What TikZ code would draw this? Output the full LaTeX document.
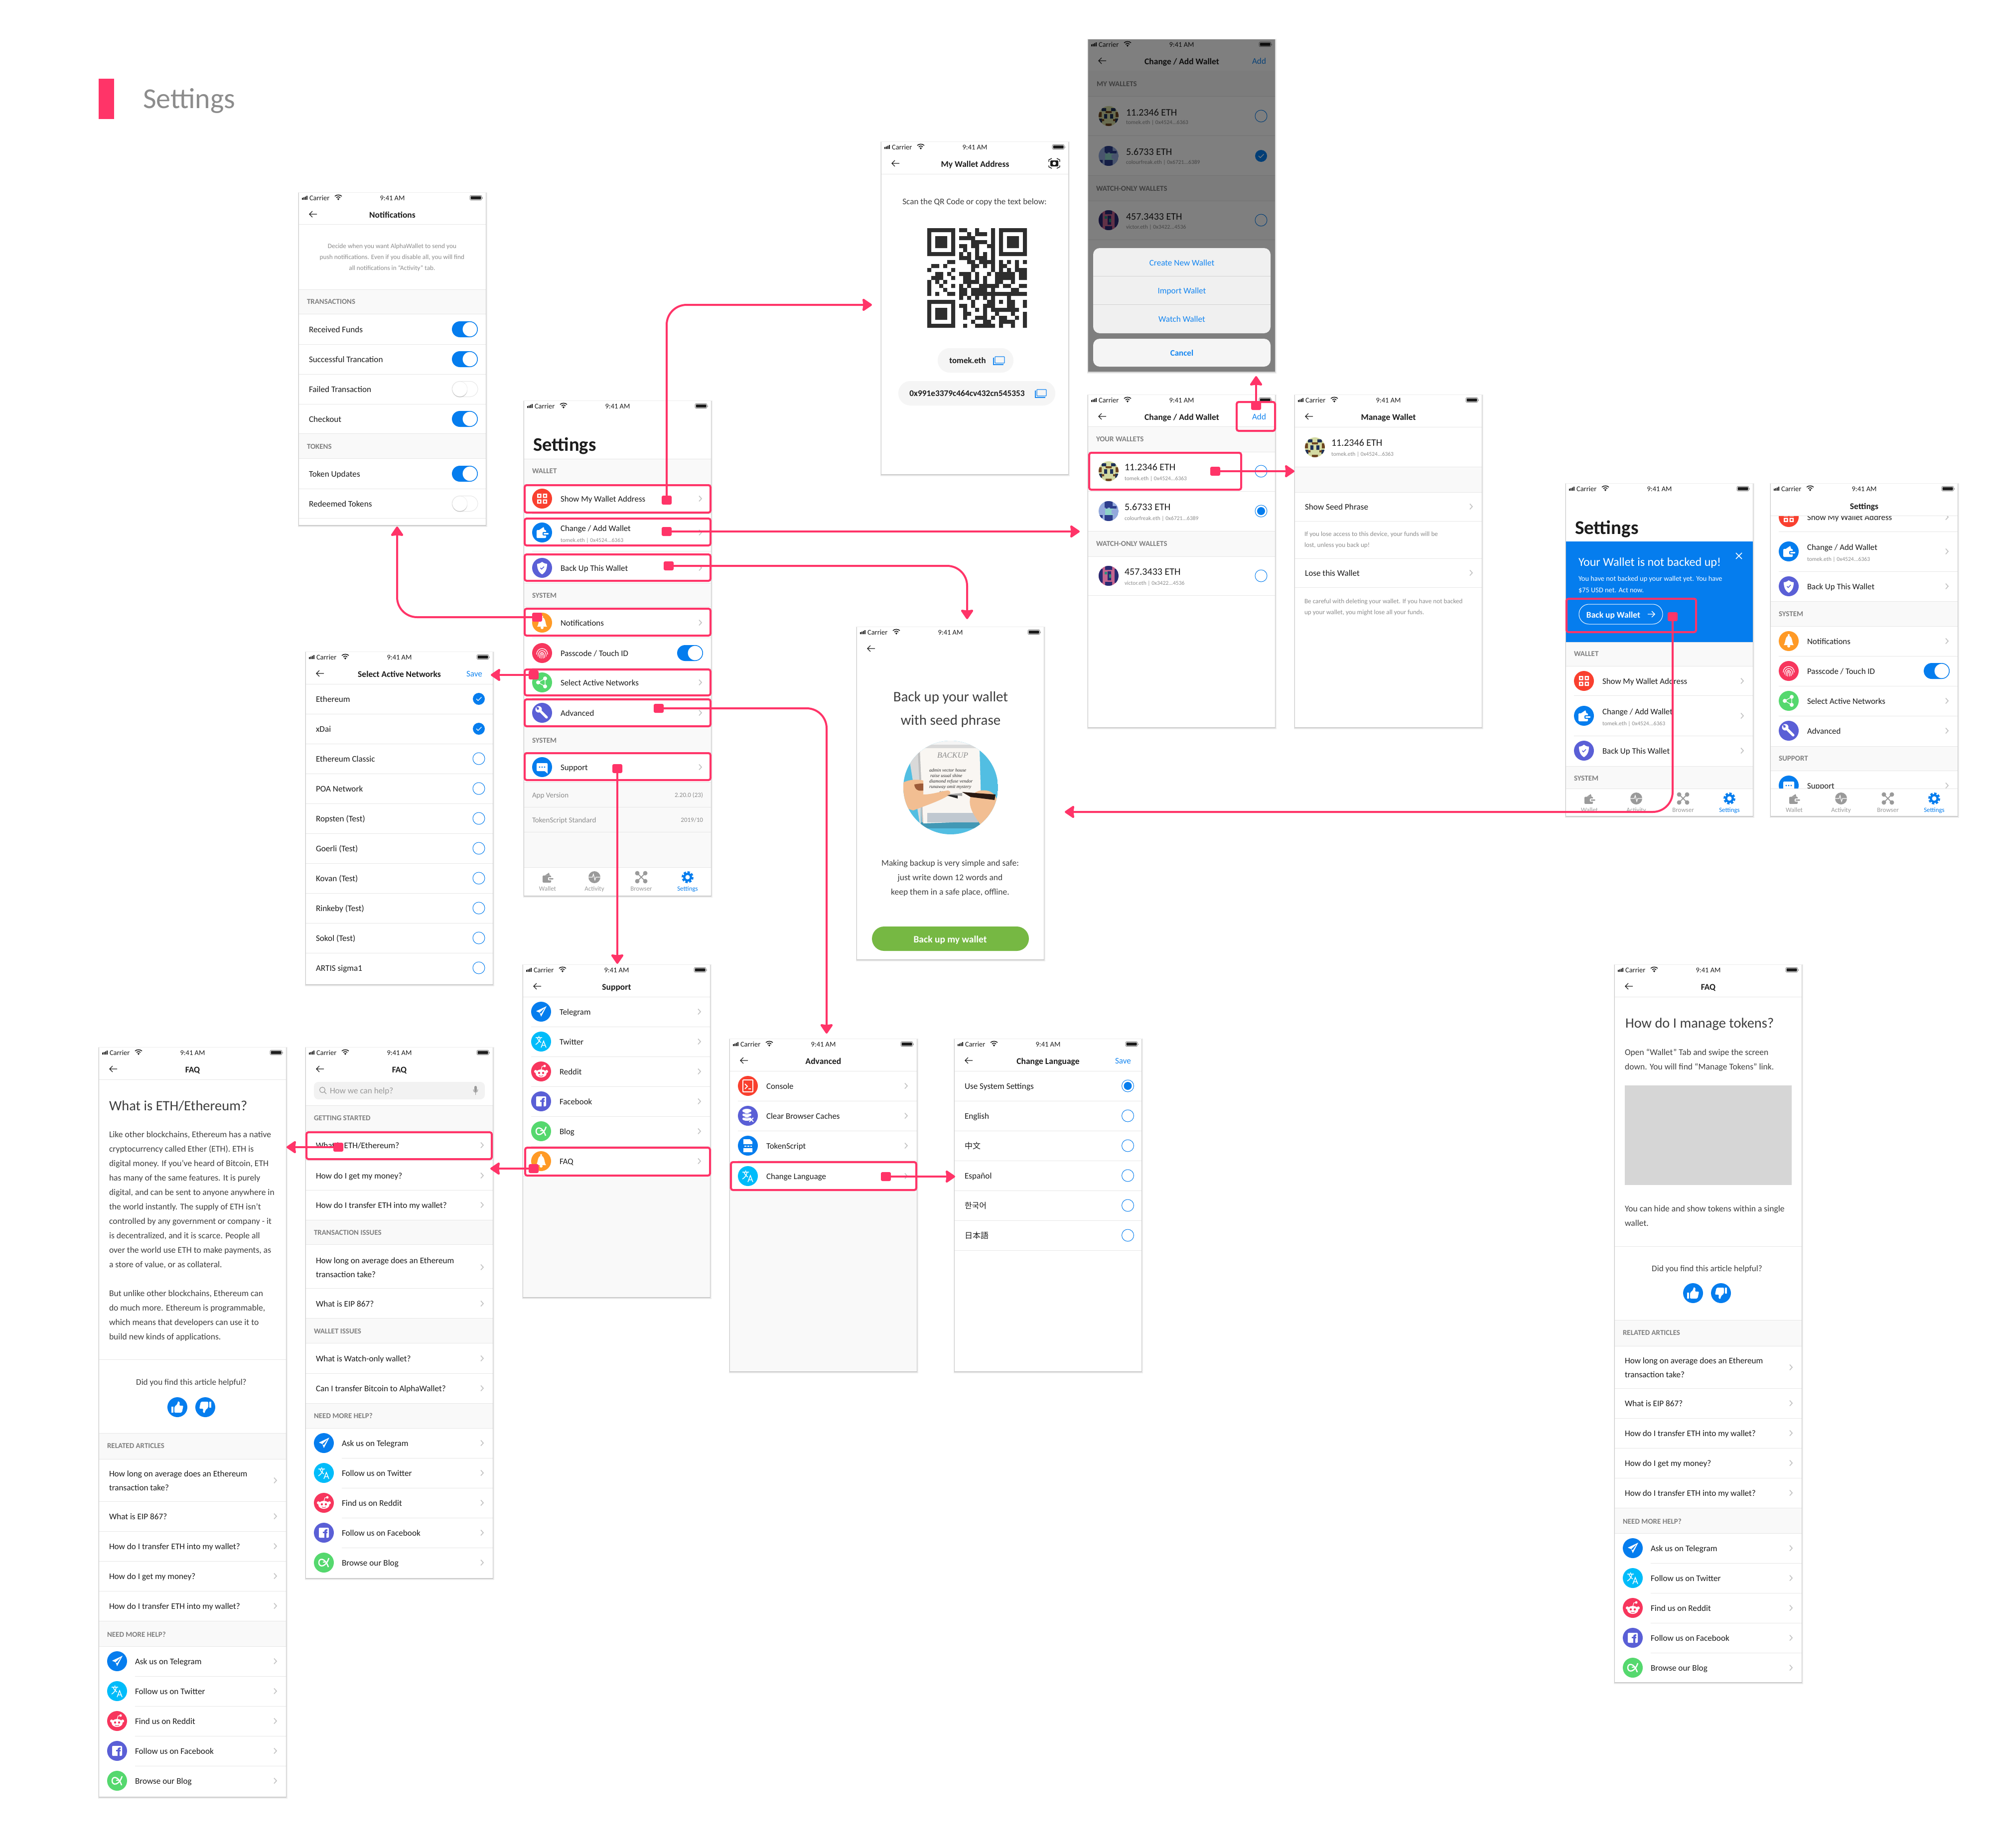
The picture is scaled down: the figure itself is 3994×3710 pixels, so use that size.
\documentclass[tikz,border=0pt]{standalone}
\usepackage{fontspec}
\usetikzlibrary{arrows.meta}
\setmainfont{Carlito}
\newfontfamily\cjksc{Noto Sans CJK SC}
\newfontfamily\cjkkr{Noto Sans CJK KR}
\newfontfamily\cjkjp{Noto Sans CJK JP}
\newfontfamily\handfont{Liberation Serif}[ItalicFont=* Italic]
\definecolor{ink}{HTML}{1C1C1C}
\definecolor{body}{HTML}{3E3E3E}
\definecolor{mute}{HTML}{8C8C8C}
\definecolor{secg}{HTML}{7F7F7F}
\definecolor{secbg}{HTML}{F9F9F9}
\definecolor{sepc}{HTML}{E6E6E6}
\definecolor{pinkc}{HTML}{FF3468}
\definecolor{blu}{HTML}{057DEE}
\definecolor{linkb}{HTML}{1586F0}
\definecolor{chev}{HTML}{C4C4C4}
\definecolor{tabg}{HTML}{9A9A9A}
\definecolor{icred}{HTML}{F9402F}
\definecolor{icindigo}{HTML}{5A5FD6}
\definecolor{icorange}{HTML}{FF9A26}
\definecolor{icpink}{HTML}{F7365D}
\definecolor{icgreen}{HTML}{55D86E}
\definecolor{iccyan}{HTML}{00BCFA}
\definecolor{greenb}{HTML}{76B843}
\definecolor{HTMLill}{HTML}{52BEE2}
\definecolor{HTMLpap}{HTML}{F9F6F2}
\definecolor{HTMLstr}{HTML}{C0C8D0}
\definecolor{HTMLskin}{HTML}{F2BE92}
\definecolor{HTMLbrn}{HTML}{9C5A38}
\definecolor{HTMLdk}{HTML}{2A1A12}
\newcommand\fz[1]{\fontsize{#1}{#1}\selectfont}
\newcounter{tn}
\tikzset{
  every node/.style={inner sep=0pt,outer sep=0pt},
  lbl/.style={anchor=west,text=ink,font=\fz{17.2}},
  ctr/.style={anchor=center,text=ink,font=\fz{17.2}},
  rgt/.style={anchor=east,text=mute,font=\fz{13}},
  ttl/.style={anchor=center,text=ink,font=\bfseries\fz{17.5}},
  secl/.style={anchor=west,text=secg,font=\bfseries\fz{15}},
  subl/.style={anchor=west,text=mute,font=\fz{11.6}},
  smallg/.style={anchor=west,text=mute,font=\fz{13.2}},
  stat/.style={anchor=center,text=ink,font=\fz{14.5}},
  statl/.style={anchor=west,text=ink,font=\fz{14.5}},
  bodyt/.style={anchor=west,text=body,font=\fz{17.6}},
  headt/.style={anchor=west,text=body,font=\fz{28.5}},
  tabl/.style={anchor=center,text=tabg,font=\fz{13}},
  sepl/.style={draw=sepc,line width=1pt},
  scr/.style={fill=white,minimum width=375pt},
  hlbox/.style={draw=pinkc,line width=4pt,rounded corners=4pt},
  sq/.style={fill=pinkc,minimum width=20pt,minimum height=18pt,rounded corners=3pt},
  conn/.style={draw=pinkc,line width=4pt,rounded corners=40pt,-{Stealth[length=21pt,width=28pt,inset=2pt,round]}},
}
\newcommand\T[4][lbl]{\stepcounter{tn}\edef\tname{t\arabic{tn}}\node[#1] (\tname) at (#2,#3) {\rule[-.2em]{0pt}{1.2em}#4};}
\newcommand\Screen[2]{%
  \fill[black,opacity=.07] (-2.5,-1) rectangle (377.5,#2+4);
  \fill[black,opacity=.14] (-1,0) rectangle (376,#2+2);
  \node[scr,minimum height=#2pt] (#1) at (187.5,#2/2) {};}
\newcommand\Status{%
  \fill[ink] (6,10) rectangle (8,14) (9,9) rectangle (11,14) (12,7.5) rectangle (14,14) (15,6) rectangle (17,14);
  \T[statl]{21}{10}{Carrier}
  \draw[ink,line width=1.6pt] (72,7) .. controls (76,3.5) and (82,3.5) .. (86,7) (75,10) .. controls (78,7.5) and (80,7.5) .. (83,10);
  \fill[ink] (79,15) -- (76.8,12) .. controls (78.5,10.7) and (79.5,10.7) .. (81.2,12) -- cycle;
  \T[stat]{187.5}{10}{9:41 AM}
  \draw[ink!70,line width=.6pt,rounded corners=2pt] (343,5.5) rectangle (367,14.5);
  \fill[ink,rounded corners=1pt] (344.5,7) rectangle (365.5,13);
  \fill[ink!50] (368,8.5) rectangle (369,11.5);}
\newcommand\Back{\draw[ink,line width=1.3pt] (36,43) -- (21,43) (27,37) -- (21,43) -- (27,49);}
\newcommand\Rule[2][0]{\draw[sepl] (#1,#2) -- (375,#2);}
\newcommand\Sec[4]{\fill[secbg] (0,#1) rectangle (375,#2); \Rule{#1}\Rule{#2}\T[secl]{16}{#3}{#4}}
\newcommand\Chev[1]{\draw[chev,line width=1.7pt] (351,#1-5.5) -- (356,#1) -- (351,#1+5.5);}
\newcommand\Toggle[2]{%
  \ifnum#2=1
    \fill[blu,rounded corners=16pt] (307,#1-16) rectangle (359,#1+16);
    \fill[white,draw=blu,line width=1pt] (343,#1) circle (15);
  \else
    \draw[sepc,fill=white,line width=1pt,rounded corners=16pt] (307,#1-15.5) rectangle (359,#1+15.5);
    \fill[black!25] (323,#1+1.5) circle (15);
    \fill[white,draw=black!10,line width=.5pt] (323,#1) circle (15);
  \fi}
\newcommand\Radio[2]{\draw[blu,line width=1pt] (#1,#2) circle (12);}
\newcommand\RadioDot[2]{\Radio{#1}{#2}\fill[blu] (#1,#2) circle (8);}
\newcommand\CheckO[2]{\fill[blu] (#1,#2) circle (12);\draw[white,line width=1.3pt] (#1-5,#2) -- (#1-1.5,#2+3.5) -- (#1+5.5,#2-3.5);}
\newcommand\Icon[4]{\begin{scope}[shift={(#1,#2)}]\def\ic{#3}\fill[#3] (0,0) circle (20);#4\end{scope}}
\newcommand\GQr{\fill[white] (-10,-10) rectangle (-1.5,-1.5) (1.5,-10) rectangle (10,-1.5) (-10,1.5) rectangle (-1.5,10) (1.5,1.5) rectangle (10,10);\fill[\ic] (-7.5,-7.5) rectangle (-4,-4) (4,-7.5) rectangle (7.5,-4) (-7.5,4) rectangle (-4,7.5) (4,4) rectangle (7.5,7.5);}
\newcommand\GWal[2]{\fill[#1] (-6,-5) -- (3,-11) -- (5,-5) -- cycle;\fill[#1,rounded corners=1.5pt] (-11,-5) rectangle (8,11);\fill[#2,rounded corners=2pt] (1,-1) rectangle (13,6);\fill[#1,rounded corners=1pt] (3,1) rectangle (13,4);}
\newcommand\GWallet{\GWal{white}{\ic}}
\newcommand\GShield{\fill[white] (0,-12) .. controls (4,-9) and (7,-8) .. (10,-8) .. controls (10,2) and (7,9) .. (0,13) .. controls (-7,9) and (-10,2) .. (-10,-8) .. controls (-7,-8) and (-4,-9) .. (0,-12) -- cycle;\draw[\ic,line width=1.5pt] (-3.5,0) -- (-1,2.5) -- (4,-2.5);}
\newcommand\GBell{\fill[white] (0,-12) circle (2);\fill[white] (-10,8) .. controls (-6,4) and (-8,-10) .. (0,-10.5) .. controls (8,-10) and (6,4) .. (10,8) -- cycle;\fill[white] (0,10) circle (3);}
\newcommand\GFinger{\draw[white,line width=1.3pt] (-11,3) .. controls (-11,-13) and (11,-13) .. (11,3) (-8,7) .. controls (-9,-9) and (9,-9) .. (8,7) (-5,10) .. controls (-6,-5) and (5,-5) .. (5,10) (-2,11) .. controls (-3,-2) and (2,-2) .. (2,11);}
\newcommand\GShare{\draw[white,line width=1.2pt] (-8,0) -- (6,-8) -- (6,8) -- cycle;\fill[white] (-8,0) circle (4) (6,-8) circle (4) (6,8) circle (4);}
\newcommand\GWrench{\draw[white,line width=5pt,line cap=round] (-5,-5) -- (9,9);\fill[white] (-7,-7) circle (6.5);\fill[\ic] (-12,-12) -- (-7,-11) -- (-6,-7) -- (-10,-6) -- cycle;}
\newcommand\GChat{\fill[white,rounded corners=2pt] (-11,-8) rectangle (11,8);\fill[white] (4,7) -- (11,13) -- (11,7) -- cycle;\fill[\ic] (-5,0) circle (1.6) (0,0) circle (1.6) (5,0) circle (1.6);}
\newcommand\GPlane{\fill[white] (11,-11) -- (-10,-1) -- (-3,2) -- (0,10) -- cycle;\fill[\ic] (-3,2) -- (7,-7) -- (0,4) -- cycle;}
\newcommand\GTrans{\draw[white,line width=1.5pt] (-11,-8) -- (2,-8) (-4.5,-11.5) -- (-4.5,-8) (-1.5,-8) .. controls (-3,-1) and (-6,3) .. (-11,6) (-8,-8) .. controls (-6,-3) and (-3,0) .. (0,2) (0,12) -- (5,-1) -- (10,12) (2,7.5) -- (8,7.5);}
\newcommand\GReddit{\fill[white] (0,4) ellipse (11 and 8);\fill[white] (-11,0) circle (3) (11,0) circle (3) (7,-11) circle (2.5);\draw[white,line width=1.2pt] (0,-3) -- (2,-10) -- (7,-11);\fill[\ic] (-4,3) circle (2.2) (4,3) circle (2.2);\draw[\ic,line width=1pt] (-4,8) .. controls (-2,10) and (2,10) .. (4,8);}
\newcommand\GFace{\fill[white,rounded corners=2pt] (-10,-10) rectangle (10,10);\fill[\ic] (1,12) -- (1,-2) .. controls (1,-6) and (3,-7) .. (7,-7) -- (7,-4) .. controls (5,-4) and (5,-3) .. (5,-2) -- (7,-2) -- (7,1) -- (5,1) -- (5,12) -- cycle;\fill[\ic] (-2,-2) rectangle (2,1);}
\newcommand\GBlog{\draw[white,line width=2.4pt] (10,-9) .. controls (4,10) and (-10,10) .. (-10,0) .. controls (-10,-10) and (3,-10) .. (9,9);\draw[white,line width=1.4pt] (-2,-1) -- (6,-1);}
\newcommand\GCons{\draw[white,line width=1.8pt,rounded corners=1pt] (-10,-12) rectangle (10,12);\draw[white,line width=1.8pt] (-6,-4) -- (-1,1) -- (-6,6) (1,6) -- (6,6);}
\newcommand\GDb{\fill[white] (-2,-10) ellipse (9 and 4) (-2,-2) ellipse (9 and 4) (-2,6) ellipse (9 and 4);\draw[\ic,line width=1pt] (-11,-6) .. controls (-6,-3) and (2,-3) .. (7,-6) (-11,2) .. controls (-6,5) and (2,5) .. (7,2);\draw[white,line width=2pt] (3,4) -- (11,12) (11,4) -- (3,12);}
\newcommand\GXml{\fill[white] (-9,-13) -- (4,-13) -- (9,-8) -- (9,13) -- (-9,13) -- cycle;\fill[\ic] (-11,-3) rectangle (11,5);\fill[white] (-7,0) rectangle (-3,2) (-1,0) rectangle (3,2) (5,0) rectangle (8,2);}
\newcommand\Item[4]{\Icon{36}{#1}{#2}{#3}\T[lbl,font=\fz{16.9}]{73}{#1}{#4}\Chev{#1}}
\newcommand\ItemTwo[5]{\Icon{36}{#1}{#2}{#3}\T[lbl,font=\fz{16.9}]{73}{#1-9}{#4}\T[subl]{73}{#1+14.5}{#5}\Chev{#1}}
\newcommand\TabBar[2]{%
  \fill[white] (0,#1) rectangle (375,#2);\Rule{#1}
  \begin{scope}[shift={(47,#1+21)},scale=.9]\GWal{tabg}{white}\end{scope}
  \T[tabl]{47}{#1+42}{Wallet}
  \begin{scope}[shift={(141,#1+20)}]\fill[tabg] (0,0) circle (12);\draw[white,line width=1.2pt] (-12,0) -- (-4,0) -- (-2,-6) -- (1,6) -- (3,0) -- (12,0);\end{scope}
  \T[tabl]{141}{#1+42}{Activity}
  \begin{scope}[shift={(235,#1+20)}]\draw[tabg,line width=2pt] (-7,-7) -- (7,7) (7,-7) -- (-7,7);\fill[tabg] (-8,-8) circle (4.5) (8,-8) circle (4.5) (-8,8) circle (4.5) (8,8) circle (4.5);\end{scope}
  \T[tabl]{235}{#1+42}{Browser}
  \begin{scope}[shift={(328,#1+20)}]\draw[blu,line width=4pt,dash pattern=on 4.4pt off 3.4pt] (0,0) circle (10);\fill[blu] (0,0) circle (9);\fill[white] (0,0) circle (4.5);\end{scope}
  \T[tabl,text=blu]{328}{#1+42}{Settings}}
\newcommand\Avatar[3]{\begin{scope}[shift={(#1,#2)}]\begin{scope}
  \clip (0,0) circle (20);
  \ifnum#3=1
    \fill[HTMLaa] (-20,-20) rectangle (20,20);
    \fill[HTMLab] (-14,-16) rectangle (-5,-10) (5,-16) rectangle (14,-10) (-9,-4) rectangle (-3,5) (3,-4) rectangle (9,5) (-20,5) rectangle (-13,13) (13,5) rectangle (20,13);
    \fill[HTMLac] (-6,-10) rectangle (6,-6) (-20,-8) rectangle (-14,2) (14,-8) rectangle (20,2) (-6,15) rectangle (6,20) (-14,6) rectangle (-9,10) (9,6) rectangle (14,10);
  \else\ifnum#3=2
    \fill[HTMLba] (-20,-20) rectangle (20,20);
    \fill[HTMLbb] (-8,-20) rectangle (8,-7) (-20,8) rectangle (-12,14) (-8,8) rectangle (8,20) (-6,-7) rectangle (-2,8);
    \fill[HTMLbc] (-7,-5) rectangle (10,8);\fill[HTMLbb] (3,-10) rectangle (16,-5);\fill[HTMLba] (6,-3) rectangle (12,6);
  \else
    \fill[HTMLca] (-20,-20) rectangle (20,20);
    \fill[HTMLcb] (-20,-14) rectangle (-12,14) (12,-14) rectangle (20,14) (-7,-20) rectangle (7,-12) (-7,12) rectangle (7,20) (-2,-9) rectangle (5,9);
    \fill[HTMLcc] (1,-3) rectangle (5,4) (-8,-8) rectangle (-3,-3);
  \fi\fi\end{scope}\end{scope}}
\definecolor{HTMLaa}{HTML}{D3DAA2}\definecolor{HTMLab}{HTML}{1F3157}\definecolor{HTMLac}{HTML}{6E4622}
\definecolor{HTMLba}{HTML}{93A9DC}\definecolor{HTMLbb}{HTML}{2C3D8C}\definecolor{HTMLbc}{HTML}{8ED3C8}
\definecolor{HTMLca}{HTML}{C4648F}\definecolor{HTMLcb}{HTML}{2A2A72}\definecolor{HTMLcc}{HTML}{2E8E7E}
\newcommand\Wrow[4]{\Avatar{41}{#1}{#2}\T[lbl,font=\fz{20}]{73}{#1-10}{#3}\T[subl,font=\fz{11.5}]{73}{#1+14}{#4}}
\newcommand\HelpRows[1]{%
  \Icon{36}{#1}{blu}{\GPlane}\T{72}{#1}{Ask us on Telegram}\Chev{#1}\Rule[72]{#1+30}
  \Icon{36}{#1+60}{iccyan}{\GTrans}\T{72}{#1+60}{Follow us on Twitter}\Chev{#1+60}\Rule[72]{#1+90}
  \Icon{36}{#1+120}{icpink}{\GReddit}\T{72}{#1+120}{Find us on Reddit}\Chev{#1+120}\Rule[72]{#1+150}
  \Icon{36}{#1+180}{icindigo}{\GFace}\T{72}{#1+180}{Follow us on Facebook}\Chev{#1+180}\Rule[72]{#1+210}
  \Icon{36}{#1+240}{icgreen}{\GBlog}\T{72}{#1+240}{Browse our Blog}\Chev{#1+240}}
\newcommand\GThumb{\fill[white] (-12,-1) rectangle (-8,11);\fill[white,rounded corners=2pt] (-6,-1) -- (0,-6) -- (1,-12) -- (5,-11) -- (4,-3) -- (12,-3) -- (9,11) -- (-6,11) -- cycle;}
\newcommand\Thumbs[1]{%
  \Icon{157}{#1}{blu}{\GThumb}
  \begin{scope}[shift={(213,#1)},xscale=-1,yscale=-1]\def\ic{blu}\fill[blu] (0,0) circle (20);\GThumb\end{scope}}
\newcommand\Related[1]{%
  \Sec{#1}{#1+52}{#1+24}{RELATED ARTICLES}
  \T{20}{#1+81}{How long on average does an Ethereum}\T{20}{#1+109}{transaction take?}\Chev{#1+95}\Rule{#1+137}
  \T{20}{#1+167}{What is EIP 867?}\Chev{#1+167}\Rule{#1+197}
  \T{20}{#1+227}{How do I transfer ETH into my wallet?}\Chev{#1+227}\Rule{#1+257}
  \T{20}{#1+287}{How do I get my money?}\Chev{#1+287}\Rule{#1+317}
  \T{20}{#1+347}{How do I transfer ETH into my wallet?}\Chev{#1+347}
  \Sec{#1+377}{#1+428}{#1+403}{NEED MORE HELP?}
  \HelpRows{#1+458}}
\newcommand\HL[5]{\node[hlbox,minimum width={(#4-#2)*1pt},minimum height={(#5-#3)*1pt}] (#1) at ({(#2+#4)/2},{(#3+#5)/2}) {};}
\newcommand\SQ[3]{\node[sq] (#1) at (#2,#3) {};}
\newcommand\Copy[2]{\draw[linkb,line width=1.2pt,rounded corners=1pt] (#1-8,#2-7) rectangle (#1+11,#2+6);\draw[linkb,line width=1.2pt] (#1-11,#2-5) -- (#1-11,#2+9) -- (#1+9,#2+9);}
\begin{document}
\begin{tikzpicture}[x=1pt,y=-1pt]
\useasboundingbox (0,0) rectangle (3994,3710);
\fill[white] (0,0) rectangle (3994,3710);
% page heading
\node[fill=pinkc,minimum width=31pt,minimum height=81pt] (headbar) at (213.5,198.5) {};
\node[anchor=west,text=black!45,font=\fz{58}] (headtxt) at (287,199) {\rule[-.2em]{0pt}{1.05em}Settings};

% ---------- Notifications
\begin{scope}[shift={(600,387)}]
\Screen{sNotif}{667}\Status\Back\T[ttl]{187.5}{43}{Notifications}\Rule{63}
\T[ctr,text=mute,font=\fz{13.3}]{187}{106}{Decide when you want AlphaWallet to send you}
\T[ctr,text=mute,font=\fz{13.3}]{187}{128}{push notifications. Even if you disable all, you will find}
\T[ctr,text=mute,font=\fz{13.3}]{187}{150}{all notifications in “Activity” tab.}
\Sec{194}{243}{217}{TRANSACTIONS}
\T{20}{274}{Received Funds}\Toggle{274}{1}\Rule{304}
\T{20}{334}{Successful Trancation}\Toggle{334}{1}\Rule{364}
\T{20}{394}{Failed Transaction}\Toggle{394}{0}\Rule{424}
\T{20}{454}{Checkout}\Toggle{454}{1}
\Sec{483}{533}{508}{TOKENS}
\T{20}{564}{Token Updates}\Toggle{564}{1}\Rule{594}
\T{20}{624}{Redeemed Tokens}\Toggle{624}{0}\Rule{653}
\end{scope}

% ---------- Settings main
\begin{scope}[shift={(1052,805)}]
\Screen{sMain}{993}\Status
\T[lbl,font=\bfseries\fz{38.6}]{18}{85}{Settings}
\Sec{116}{167}{139}{WALLET}
\Item{196}{icred}{\GQr}{Show My Wallet Address}\Rule[16]{226}
\ItemTwo{264}{blu}{\GWallet}{Change / Add Wallet}{tomek.eth | 0x4524...6363}\Rule[16]{301}
\Item{335}{icindigo}{\GShield}{Back Up This Wallet}
\Sec{365}{413}{389}{SYSTEM}
\Item{445}{icorange}{\GBell}{Notifications}\Rule[16]{475}
\Icon{36}{506}{icpink}{\GFinger}\T[lbl,font=\fz{16.9}]{73}{506}{Passcode / Touch ID}\Toggle{506}{1}\Rule[16]{536}
\Item{565}{icgreen}{\GShare}{Select Active Networks}\Rule[16]{596}
\Item{626}{icindigo}{\GWrench}{Advanced}
\Sec{654}{705}{680}{SYSTEM}
\Item{735}{blu}{\GChat}{Support}
\fill[secbg] (0,765) rectangle (375,936);\Rule{765}\Rule{815}\Rule{865}
\T[lbl,text=mute,font=\fz{15}]{16}{790}{App Version}\T[rgt]{359}{790}{2.20.0 (23)}
\T[lbl,text=mute,font=\fz{15}]{16}{840}{TokenScript Standard}\T[rgt]{359}{840}{2019/10}
\TabBar{936}{993}
\end{scope}

% ---------- My Wallet Address
\begin{scope}[shift={(1769,285)}]
\Screen{sAddr}{667}\Status\Back\T[ttl]{188}{43}{My Wallet Address}\Rule{64}
\draw[ink,line width=1.4pt] (336,40) -- (336,36) -- (342,33) (352,33) -- (358,36) -- (358,40) (336,47) -- (336,50) -- (342,53) (352,53) -- (358,50) -- (358,47);
\fill[ink,rounded corners=1.5pt] (339,37) rectangle (355,49);\fill[white] (347,43) circle (3.5);
\T[ctr,text=body,font=\fz{17.2}]{187}{119}{Scan the QR Code or copy the text below:}
\begin{scope}[shift={(92,173)}]
\fill[black!82] foreach \r/\a/\b in {
0/0/7,0/8/10,0/12/13,0/16/17,0/18/25,
1/0/1,1/6/7,1/10/11,1/12/15,1/16/17,1/18/19,1/24/25,
2/0/1,2/2/5,2/6/7,2/8/12,2/16/17,2/18/19,2/20/23,2/24/25,
3/0/1,3/2/5,3/6/7,3/11/15,3/16/17,3/18/19,3/20/23,3/24/25,
4/0/1,4/2/5,4/6/7,4/8/10,4/11/13,4/15/17,4/18/19,4/20/23,4/24/25,
5/0/1,5/6/7,5/9/10,5/12/13,5/16/17,5/18/19,5/24/25,
6/0/7,6/8/9,6/10/11,6/12/13,6/14/15,6/16/17,6/18/25,
7/8/11,7/12/15,7/16/17,
8/5/7,8/10/12,8/13/17,8/18/19,8/20/21,8/22/23,8/24/25,
9/1/3,9/4/5,9/11/13,9/14/15,9/16/17,9/18/20,9/22/23,
10/0/1,10/6/7,10/11/12,10/16/17,10/18/19,10/20/21,10/22/25,
11/2/4,11/5/6,11/8/11,11/12/13,11/15/16,11/17/22,11/23/25,
12/1/4,12/6/7,12/9/11,12/12/13,12/14/15,12/17/22,12/23/25,
13/0/1,13/2/3,13/4/5,13/9/13,13/14/15,13/17/19,13/21/22,
14/0/1,14/3/4,14/6/7,14/8/9,14/10/11,14/13/18,14/19/21,14/23/25,
15/0/1,15/4/5,15/8/10,15/11/15,15/16/17,15/21/23,
16/0/1,16/2/3,16/5/7,16/8/10,16/11/25,
17/8/9,17/10/11,17/12/13,17/14/15,17/16/17,17/20/21,
18/0/7,18/11/12,18/15/17,18/18/19,18/20/22,18/24/25,
19/0/1,19/6/7,19/8/10,19/11/12,19/14/17,19/20/22,19/24/25,
20/0/1,20/2/5,20/6/7,20/9/10,20/12/13,20/14/15,20/16/23,
21/0/1,21/2/5,21/6/7,21/9/11,21/14/15,21/17/18,21/21/22,21/24/25,
22/0/1,22/2/5,22/6/7,22/9/10,22/12/15,22/16/17,22/18/20,22/22/23,22/24/25,
23/0/1,23/6/7,23/11/12,23/14/16,23/18/22,23/24/25,
24/0/7,24/9/10,24/12/17,24/18/19,24/21/22,24/24/25}
{ (\a*8,\r*8) rectangle (\b*8,\r*8+8) };
\end{scope}
\fill[black!4,rounded corners=24pt] (113,414) rectangle (265,463);
\T[ctr,font=\bfseries\fz{17}]{173}{438}{tomek.eth}\Copy{236}{438}
\fill[black!4,rounded corners=24pt] (34,480) rectangle (349,529);
\T[ctr,font=\bfseries\fz{17.3}]{172}{504}{0x991e3379c464cv432cn545353}\Copy{320}{504}
\end{scope}

% ---------- Change / Add Wallet with action sheet
\begin{scope}[shift={(2184,79)}]
\Screen{sSheet}{667}\Status\Back\T[ttl]{188}{43}{Change / Add Wallet}\T[ctr,text=linkb]{343}{43}{Add}\Rule{63}
\fill[secbg] (0,63) rectangle (375,114);\Rule{114}
\T[secl]{17}{88}{MY WALLETS}
\Avatar{41}{154}{1}\T[lbl,font=\fz{20}]{76}{145}{11.2346 ETH}\T[subl,font=\fz{11.5}]{76}{166}{tomek.eth | 0x4524...6363}\Radio{347}{154}\Rule{193}
\Avatar{41}{234}{2}\T[lbl,font=\fz{20}]{76}{224}{5.6733 ETH}\T[subl,font=\fz{11.5}]{76}{246}{colourfreak.eth | 0x6721...6389}\CheckO{347}{234}
\Sec{273}{324}{298}{WATCH-ONLY WALLETS}
\Avatar{41}{363}{3}\T[lbl,font=\fz{20}]{76}{354}{457.3433 ETH}\T[subl,font=\fz{11.5}]{76}{376}{victor.eth | 0x3422...4536}\Radio{347}{363}\Rule{402}
\fill[black,opacity=.5] (0,0) rectangle (375,667);
\fill[black!6,rounded corners=13pt] (10,419) rectangle (366,590);
\draw[black!18,line width=.8pt] (10,475) -- (366,475) (10,532) -- (366,532);
\T[ctr,text=linkb]{188}{448}{Create New Wallet}
\T[ctr,text=linkb]{188}{504}{Import Wallet}
\T[ctr,text=linkb]{188}{561}{Watch Wallet}
\fill[black!4,rounded corners=13pt] (10,601) rectangle (366,657);
\T[ctr,text=linkb,font=\bfseries\fz{17}]{188}{629}{Cancel}
\end{scope}

% ---------- Change / Add Wallet
\begin{scope}[shift={(2184,793)}]
\Screen{sChange}{667}\Status\Back\T[ttl]{188}{43}{Change / Add Wallet}\T[ctr,text=linkb]{343}{43}{Add}\Rule{63}
\Sec{63}{114}{87}{YOUR WALLETS}
\Wrow{153}{1}{11.2346 ETH}{tomek.eth | 0x4524...6363}\Radio{347}{153}\Rule{193}
\Wrow{233}{2}{5.6733 ETH}{colourfreak.eth | 0x6721...6389}\RadioDot{347}{233}
\Sec{273}{324}{297}{WATCH-ONLY WALLETS}
\Wrow{363}{3}{457.3433 ETH}{victor.eth | 0x3422...4536}\Radio{347}{363}\Rule{402}
\end{scope}

% ---------- Manage Wallet
\begin{scope}[shift={(2599,793)}]
\Screen{sManage}{667}\Status\Back\T[ttl]{187.5}{43}{Manage Wallet}\Rule{64}
\Avatar{40}{105}{1}\T[lbl,font=\fz{20}]{73}{94}{11.2346 ETH}\T[subl,font=\fz{11.5}]{73}{118}{tomek.eth | 0x4524...6363}
\fill[secbg] (0,144) rectangle (375,195);\Rule{144}\Rule{195}
\T{20}{224}{Show Seed Phrase}\Chev{224}\Rule{253}
\T[smallg]{19}{278}{If you lose access to this device, your funds will be}
\T[smallg]{19}{300}{lost, unless you back up!}\Rule{328}
\T{20}{357}{Lose this Wallet}\Chev{357}\Rule{386}
\T[smallg]{19}{413}{Be careful with deleting your wallet. If you have not backed}
\T[smallg]{19}{435}{up your wallet, you might lose all your funds.}
\end{scope}

% ---------- Settings with banner
\begin{scope}[shift={(3143,971)}]
\Screen{sBanner}{667}\Status
\T[lbl,font=\bfseries\fz{39}]{18}{86}{Settings}
\fill[blu] (0,116) rectangle (375,318);
\T[lbl,text=white,font=\fz{24.2}]{25}{156}{Your Wallet is not backed up!}
\draw[white,line width=1.5pt] (341,139) -- (353,151) (353,139) -- (341,151);
\T[lbl,text=white,font=\fz{14.4}]{25}{190}{You have not backed up your wallet yet. You have}
\T[lbl,text=white,font=\fz{14.4}]{25}{213}{\$75 USD net. Act now.}
\draw[white,line width=1pt,rounded corners=20pt] (26,242) rectangle (194,282);
\T[ctr,text=white,font=\bfseries\fz{17.5}]{95}{262}{Back up Wallet}
\draw[white,line width=1.4pt] (164,262) -- (178,262) (172,256) -- (178,262) -- (172,268);
\Sec{318}{366}{340}{WALLET}
\Item{396}{icred}{\GQr}{Show My Wallet Address}\Rule[16]{425}
\ItemTwo{466}{blu}{\GWallet}{Change / Add Wallet}{tomek.eth | 0x4524...6363}\Rule[16]{506}
\Item{536}{icindigo}{\GShield}{Back Up This Wallet}
\Sec{567}{612}{590}{SYSTEM}
\TabBar{612}{667}
\end{scope}

% ---------- Settings scrolled
\begin{scope}[shift={(3554,971)}]
\Screen{sScroll}{667}
\Item{67}{icred}{\GQr}{Show My Wallet Address}\Rule[16]{96}
\ItemTwo{136}{blu}{\GWallet}{Change / Add Wallet}{tomek.eth | 0x4524...6363}\Rule[16]{176}
\Item{206}{icindigo}{\GShield}{Back Up This Wallet}
\Sec{236}{286}{260}{SYSTEM}
\Item{316}{icorange}{\GBell}{Notifications}\Rule[16]{346}
\Icon{36}{376}{icpink}{\GFinger}\T[lbl,font=\fz{16.9}]{73}{376}{Passcode / Touch ID}\Toggle{376}{1}\Rule[16]{406}
\Item{436}{icgreen}{\GShare}{Select Active Networks}\Rule[16]{466}
\Item{496}{icindigo}{\GWrench}{Advanced}
\Sec{527}{576}{550}{SUPPORT}
\Item{606}{blu}{\GChat}{Support}
\fill[white] (0,0) rectangle (375,64);\Rule{64}
\Status\T[ttl]{187.5}{44}{Settings}
\TabBar{612}{667}
\end{scope}

% ---------- Select Active Networks
\begin{scope}[shift={(614,1309)}]
\Screen{sNets}{667}\Status\Back\T[ttl]{187.5}{43}{Select Active Networks}\T[ctr,text=linkb]{338}{43}{Save}\Rule{64}
\T{20}{94}{Ethereum}\CheckO{347}{94}\Rule{124}
\T{20}{154}{xDai}\CheckO{347}{154}\Rule{184}
\T{20}{214}{Ethereum Classic}\Radio{347}{214}\Rule{244}
\T{20}{274}{POA Network}\Radio{347}{274}\Rule{304}
\T{20}{334}{Ropsten (Test)}\Radio{347}{334}\Rule{364}
\T{20}{394}{Goerli (Test)}\Radio{347}{394}\Rule{424}
\T{20}{454}{Kovan (Test)}\Radio{347}{454}\Rule{484}
\T{20}{514}{Rinkeby (Test)}\Radio{347}{514}\Rule{544}
\T{20}{574}{Sokol (Test)}\Radio{347}{574}\Rule{604}
\T{20}{634}{ARTIS sigma1}\Radio{347}{634}
\end{scope}

% ---------- Back up wallet
\begin{scope}[shift={(1720,1259)}]
\Screen{sBackup}{667}\Status\Back
\T[ctr,text=body,font=\fz{29}]{188}{138}{Back up your wallet}
\T[ctr,text=body,font=\fz{29}]{188}{185}{with seed phrase}
\begin{scope}[shift={(188,322)}]
\begin{scope}
\clip (0,0) ellipse (95 and 94);
\fill[HTMLill] (-95,-94) rectangle (95,94);
\fill[white!96!black] (-95,-94) rectangle (95,-80);
\fill[black!15] (-60,-86) rectangle (60,-79);
\fill[black!15] (-85,-70) -- (-60,-85) -- (-60,72) -- (-62,72) -- cycle;
\fill[black!25] (-66,-72) -- (-60,-78) -- (-52,72) -- (-58,72) -- cycle;
\fill[HTMLill!80!black] (-60,70) rectangle (60,82);
\fill[HTMLpap] (-62,-79) -- (58,-79) -- (62,68) -- (-55,72) -- cycle;
\fill[HTMLstr] (-47,51) rectangle (55,70);
\node[anchor=mid west,text=black!45,font=\handfont\itshape\fz{16}] (bkh) at (-27,-62) {BACKUP};
\node[anchor=mid west,text=black!85,font=\handfont\itshape\fz{9.5}] (bk1) at (-43,-34) {admin vector house};
\node[anchor=mid west,text=black!85,font=\handfont\itshape\fz{9.5}] (bk2) at (-41,-23) {raise usual shine};
\node[anchor=mid west,text=black!85,font=\handfont\itshape\fz{9.5}] (bk3) at (-43,-12) {diamond refuse vendor};
\node[anchor=mid west,text=black!85,font=\handfont\itshape\fz{9.5}] (bk4) at (-43,-1) {runaway omit mystery};
\node[anchor=mid west,text=black!85,font=\handfont\itshape\fz{9.5}] (bk5) at (-23,10) {ce};
\fill[HTMLskin] (-95,-10) .. controls (-80,-18) and (-60,-16) .. (-55,-14) -- (-55,14) .. controls (-35,14) and (-15,6) .. (-5,6) .. controls (2,8) and (0,14) .. (-8,18) .. controls (-25,28) and (-50,36) .. (-75,46) -- (-95,40) -- cycle;
\fill[HTMLbrn] (-73,-6) .. controls (-65,-8) and (-60,-8) .. (-55,-8) -- (-55,6) .. controls (-65,8) and (-72,4) .. (-73,-6) -- cycle;
\fill[HTMLskin] (95,40) -- (62,78) -- (50,60) .. controls (42,48) and (35,32) .. (40,18) .. controls (48,8) and (60,4) .. (72,6) .. controls (85,8) and (95,18) .. (95,40) -- cycle;
\fill[black!85] (-7,16) -- (14,22) -- (14,12) -- cycle;
\fill[HTMLdk] (23,9) -- (90,14) -- (88,25) -- (40,19) -- cycle;
\fill[black!35] (-8,14) -- (23,11) -- (23,17) -- cycle;
\end{scope}
\end{scope}
\T[ctr,text=body,font=\fz{17.5}]{187}{472}{Making backup is very simple and safe:}
\T[ctr,text=body,font=\fz{17.5}]{187}{501}{just write down 12 words and}
\T[ctr,text=body,font=\fz{17.5}]{187}{530}{keep them in a safe place, offline.}
\fill[greenb,rounded corners=24.5pt] (30,601) rectangle (345,650);
\T[ctr,text=white,font=\bfseries\fz{19.5}]{187}{626}{Back up my wallet}
\end{scope}

% ---------- Support
\begin{scope}[shift={(1050,1937)}]
\Screen{sSupport}{667}\Status\Back\T[ttl]{187.5}{43}{Support}\Rule{64}
\fill[secbg] (0,424) rectangle (375,667);
\Item{94}{blu}{\GPlane}{Telegram}\Rule[16]{124}
\Item{154}{iccyan}{\GTrans}{Twitter}\Rule[16]{184}
\Item{214}{icpink}{\GReddit}{Reddit}\Rule[16]{244}
\Item{274}{icindigo}{\GFace}{Facebook}\Rule[16]{304}
\Item{334}{icgreen}{\GBlog}{Blog}\Rule[16]{364}
\Item{394}{icorange}{\GBell}{FAQ}\Rule{424}
\end{scope}

% ---------- Advanced
\begin{scope}[shift={(1465,2086)}]
\Screen{sAdv}{667}\Status\Back\T[ttl]{187.5}{43}{Advanced}\Rule{64}
\fill[secbg] (0,304) rectangle (375,667);
\Item{94}{icred}{\GCons}{Console}\Rule[16]{124}
\Item{154}{icindigo}{\GDb}{Clear Browser Caches}\Rule[16]{184}
\Item{214}{blu}{\GXml}{TokenScript}\Rule[16]{244}
\Item{275}{iccyan}{\GTrans}{Change Language}\Rule{304}
\end{scope}

% ---------- Change Language
\begin{scope}[shift={(1916,2086)}]
\Screen{sLang}{667}\Status\Back\T[ttl]{187.5}{43}{Change Language}\T[ctr,text=linkb]{338}{43}{Save}\Rule{64}
\T{20}{94}{Use System Settings}\RadioDot{347.5}{94}\Rule{124}
\T{20}{154}{English}\Radio{347.5}{154}\Rule{184}
\T[lbl,font=\cjksc\fz{16}]{20}{214}{中文}\Radio{347.5}{214}\Rule{244}
\T{20}{274}{Español}\Radio{347.5}{274}\Rule{304}
\T[lbl,font=\cjkkr\fz{16}]{20}{334}{한국어}\Radio{347.5}{334}\Rule{364}
\T[lbl,font=\cjkjp\fz{16}]{20}{394}{日本語}\Radio{347.5}{394}\Rule{424}
\end{scope}

% ---------- FAQ list
\begin{scope}[shift={(614,2103)}]
\Screen{sFaqList}{1065}\Status\Back\T[ttl]{187.5}{43}{FAQ}
\fill[black!5,rounded corners=9pt] (16,69) rectangle (359,104);
\draw[black!40,line width=1.2pt] (33,85) circle (5.5) (37,89) -- (41,93);
\T[lbl,text=black!40]{48}{86}{How we can help?}
\fill[black!40,rounded corners=2.5pt] (338,77) rectangle (343,89);
\draw[black!40,line width=1pt] (336,84) .. controls (336,92) and (345,92) .. (345,84) (340.5,90) -- (340.5,95);
\Sec{116}{166}{140}{GETTING STARTED}
\T{20}{196}{What is ETH/Ethereum?}\Chev{196}\Rule{226}
\T{20}{257}{How do I get my money?}\Chev{257}\Rule{286}
\T{20}{316}{How do I transfer ETH into my wallet?}\Chev{316}
\Sec{346}{395}{370}{TRANSACTION ISSUES}
\T{20}{427}{How long on average does an Ethereum}\T{20}{455}{transaction take?}\Chev{441}\Rule{483}
\T{20}{514}{What is EIP 867?}\Chev{514}
\Sec{543}{593}{568}{WALLET ISSUES}
\T{20}{624}{What is Watch-only wallet?}\Chev{624}\Rule{654}
\T{20}{684}{Can I transfer Bitcoin to AlphaWallet?}\Chev{684}
\Sec{714}{764}{738}{NEED MORE HELP?}
\HelpRows{794}
\end{scope}

% ---------- FAQ article
\begin{scope}[shift={(199,2103)}]
\Screen{sFaqEth}{1504}\Status\Back\T[ttl]{187.5}{43}{FAQ}\Rule{64}
\T[headt]{20}{115}{What is ETH/Ethereum?}
\T[bodyt]{20}{173}{Like other blockchains, Ethereum has a native}
\T[bodyt]{20}{202}{cryptocurrency called Ether (ETH). ETH is}
\T[bodyt]{20}{231}{digital money. If you’ve heard of Bitcoin, ETH}
\T[bodyt]{20}{260}{has many of the same features. It is purely}
\T[bodyt]{20}{289}{digital, and can be sent to anyone anywhere in}
\T[bodyt]{20}{318}{the world instantly. The supply of ETH isn’t}
\T[bodyt]{20}{347}{controlled by any government or company - it}
\T[bodyt]{20}{376}{is decentralized, and it is scarce. People all}
\T[bodyt]{20}{405}{over the world use ETH to make payments, as}
\T[bodyt]{20}{434}{a store of value, or as collateral.}
\T[bodyt]{20}{492}{But unlike other blockchains, Ethereum can}
\T[bodyt]{20}{521}{do much more. Ethereum is programmable,}
\T[bodyt]{20}{550}{which means that developers can use it to}
\T[bodyt]{20}{579}{build new kinds of applications.}
\Rule{626}
\T[ctr,text=body]{185}{671}{Did you find this article helpful?}
\Thumbs{722}
\Related{774}
\end{scope}

% ---------- FAQ manage tokens
\begin{scope}[shift={(3241,1937)}]
\Screen{sFaqTok}{1440}\Status\Back\T[ttl]{187.5}{43}{FAQ}\Rule{64}
\T[headt]{21}{115}{How do I manage tokens?}
\T[bodyt]{20}{174}{Open “Wallet” Tab and swipe the screen}
\T[bodyt]{20}{203}{down. You will find “Manage Tokens” link.}
\fill[black!16] (20,242) rectangle (355,442);
\T[bodyt]{20}{488}{You can hide and show tokens within a single}
\T[bodyt]{20}{517}{wallet.}
\Rule{565}
\T[ctr,text=body]{185}{609}{Did you find this article helpful?}
\Thumbs{659}
\Related{713}
\end{scope}

% ---------- highlights
\HL{hShow}{1053}{974}{1426}{1029}
\HL{hChange}{1053}{1041}{1426}{1095}
\HL{hBackup}{1053}{1113}{1426}{1166}
\HL{hNotif}{1053}{1222}{1426}{1276}
\HL{hSelect}{1053}{1344}{1426}{1396}
\HL{hAdv}{1053}{1404}{1426}{1458}
\HL{hSupport}{1053}{1512}{1426}{1566}
\HL{hAddBtn}{2482}{807}{2559}{865}
\HL{hWalletRow}{2186}{909}{2491}{983}
\HL{hBanner}{3144}{1202}{3404}{1269}
\HL{hFaq}{1054}{2304}{1425}{2360}
\HL{hLang}{1467}{2333}{1839}{2389}
\HL{hEth}{615}{2273}{987}{2327}

% ---------- hot spots
\SQ{qShow}{1338}{1004}
\SQ{qChange}{1338}{1067}
\SQ{qBackup}{1342}{1136}
\SQ{qNotif}{1078}{1239}
\SQ{qSelect}{1071}{1355}
\SQ{qAdv}{1322}{1422}
\SQ{qSupport}{1239}{1543}
\SQ{qAdd}{2521}{814}
\SQ{qRow}{2439}{946}
\SQ{qBanner}{3357}{1238}
\SQ{qFaq}{1071}{2346}
\SQ{qLang}{1778}{2362}
\SQ{qEth}{679}{2303}

% ---------- arrow ends
\coordinate (eShow) at (1750,612);
\coordinate (eChange) at (2167,1067);
\coordinate (eBackup) at (1941,1243);
\coordinate (eNotif) at (797,1057);
\coordinate (eSelect) at (985,1355);
\coordinate (eAdv) at (1659,2075);
\coordinate (eSupport) at (1239,1935);
\coordinate (eAdd) at (2521,755);
\coordinate (eRow) at (2598,946);
\coordinate (eBanner) at (2137,1630);
\coordinate (eFaq) at (984,2346);
\coordinate (eLang) at (1917,2362);
\coordinate (eEth) at (575,2303);

% ---------- connectors
\draw[conn] (qShow.north) |- (eShow);
\draw[conn] (qChange.east) -- (eChange);
\draw[conn] (qBackup.east) -| (eBackup);
\draw[conn] (qNotif.west) -| (eNotif);
\draw[conn] (qSelect.west) -- (eSelect);
\draw[conn] (qAdv.east) -| (eAdv);
\draw[conn] (qSupport.south) -- (eSupport);
\draw[conn] (qAdd.north) -- (eAdd);
\draw[conn] (qRow.east) -- (eRow);
\draw[conn] (qBanner.south) |- (eBanner);
\draw[conn] (qFaq.west) -- (eFaq);
\draw[conn] (qLang.east) -- (eLang);
\draw[conn] (qEth.west) -- (eEth);
\end{tikzpicture}
\end{document}
